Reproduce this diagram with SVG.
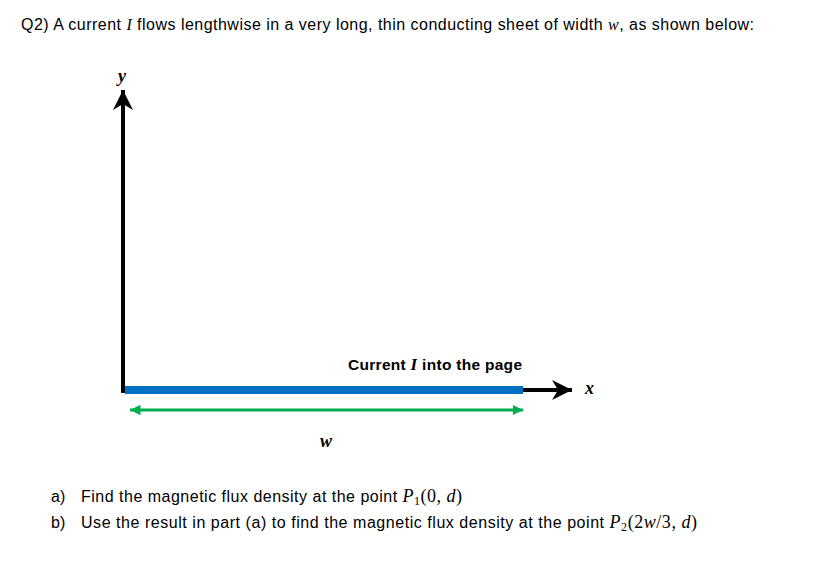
<svg xmlns="http://www.w3.org/2000/svg" width="815" height="572" viewBox="0 0 815 572">
<style>
.t{font-family:"Liberation Sans",Arial,sans-serif;font-size:16px;fill:#000}
.m{font-family:"Liberation Serif","Times New Roman",serif;font-style:italic}
.u{font-family:"Liberation Serif","Times New Roman",serif;font-style:normal}
.mb{font-family:"Liberation Serif","Times New Roman",serif;font-style:italic;font-weight:bold;font-size:17px}
.ax{font-family:"Liberation Serif","Times New Roman",serif;font-style:italic;font-weight:bold;font-size:18px}
.lb{font-family:"Liberation Sans",Arial,sans-serif;font-weight:bold;font-size:15.5px}
</style>
<defs>
<marker id="ab" viewBox="0 0 10 10" refX="10" refY="5" markerWidth="5" markerHeight="5.5" orient="auto" markerUnits="strokeWidth"><path d="M0,0 L10,5 L0,10 L3,5 Z" fill="#000"/></marker>
<marker id="ag" viewBox="0 0 10 10" refX="10" refY="5" markerWidth="3.5" markerHeight="3.5" orient="auto-start-reverse" markerUnits="strokeWidth"><path d="M0,0 L10,5 L0,10 Z" fill="#00b050"/></marker>
</defs>
<text class="t" x="21" y="30" textLength="733">Q2) A current <tspan class="m">I</tspan> flows lengthwise in a very long, thin conducting sheet of width <tspan class="m">w</tspan>, as shown below:</text>
<g id="connectors">
<line x1="123" y1="393" x2="123" y2="90" stroke="#000" stroke-width="4" marker-end="url(#ab)"/>
<line x1="520" y1="390" x2="572" y2="390" stroke="#000" stroke-width="4" marker-end="url(#ab)"/>
<line x1="130" y1="410" x2="523" y2="410" stroke="#00b050" stroke-width="3" marker-start="url(#ag)" marker-end="url(#ag)"/>
</g>
<g id="sheet">
<rect x="125" y="386" width="398" height="8" fill="#0070c0"/>
<text class="lb" x="348" y="370" textLength="174">Current <tspan class="mb">I</tspan> into the page</text>
</g>
<g id="labels">
<text class="ax" x="118" y="82">y</text>
<text class="ax" x="585" y="394">x</text>
<text class="ax" x="320" y="447">w</text>
</g>
<text class="t" x="51" y="502">a)</text>
<text class="t" x="81" y="502" textLength="381">Find the magnetic flux density at the point <tspan class="m" font-size="18">P</tspan><tspan class="u" font-size="12" dy="3">1</tspan><tspan class="u" font-size="18" dy="-3">(0, </tspan><tspan class="m" font-size="18">d</tspan><tspan class="u" font-size="18">)</tspan></text>
<text class="t" x="51" y="528">b)</text>
<text class="t" x="81" y="528" textLength="616">Use the result in part (a) to find the magnetic flux density at the point <tspan class="m" font-size="18">P</tspan><tspan class="u" font-size="12" dy="3">2</tspan><tspan class="u" font-size="18" dy="-3">(2</tspan><tspan class="m" font-size="18">w</tspan><tspan class="u" font-size="18">/3, </tspan><tspan class="m" font-size="18">d</tspan><tspan class="u" font-size="18">)</tspan></text>
</svg>
